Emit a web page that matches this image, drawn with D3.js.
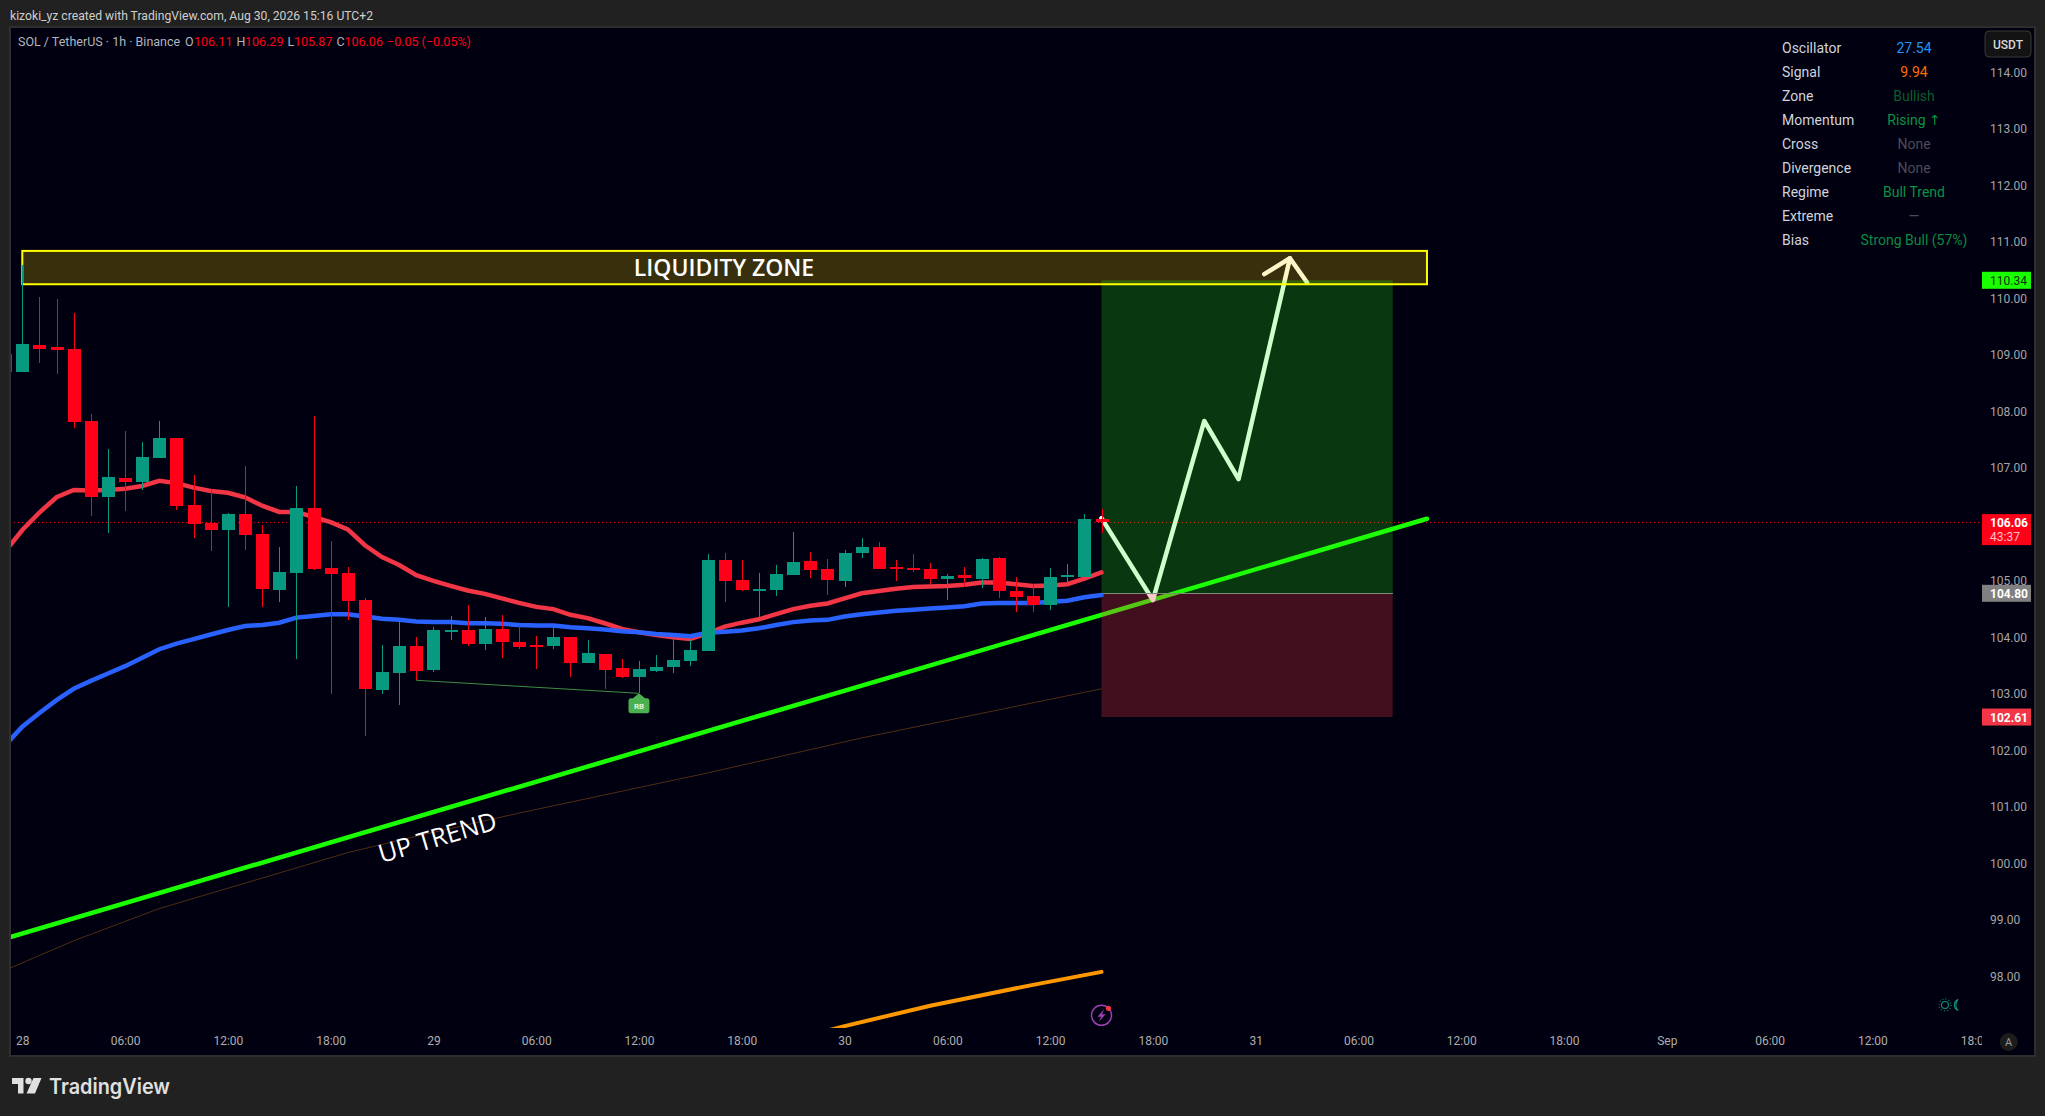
<!DOCTYPE html>
<html>
<head>
<meta charset="utf-8">
<title>SOL / TetherUS 1h</title>
<script src="https://cdn.jsdelivr.net/npm/d3@7"></script>
<style>
  html, body { margin: 0; padding: 0; background: #212121; overflow: hidden; }
  svg { display: block; }
  text { font-family: Roboto, "DejaVu Sans", sans-serif; }
</style>
</head>
<body>
<div id="chart"></div>
<script>
// hourly candles, first one is the partly hidden bar before 28th 00:00
const FIRST_BAR = -1;
const opens = [109.04,108.72,109.19,109.16,109.12,107.85,106.50,106.84,106.77,107.20,107.55,106.36,106.05,105.92,106.20,105.85,104.86,105.16,106.31,105.25,105.16,104.68,103.09,
  103.39,103.87,103.44,104.11,104.15,103.90,104.17,103.94,103.88,103.87,104.03,103.57,103.73,103.48,103.32,103.42,103.50,103.60,103.78,105.39,105.04,104.86,104.86,
  105.12,105.37,105.23,105.02,105.51,105.62,105.27,105.25,105.23,105.05,105.12,105.05,105.42,104.84,104.75,104.59,105.09,105.09,106.11];
const highs = [109.30,110.61,110.04,110.01,109.76,107.97,107.35,107.67,107.48,107.85,107.55,106.89,106.63,106.22,107.05,106.01,105.62,106.70,107.94,105.73,105.27,104.72,103.88,
  104.30,104.03,104.20,104.40,104.59,104.38,104.42,104.24,104.04,104.20,104.03,103.97,103.73,103.64,103.60,103.71,104.01,103.97,105.50,105.51,105.39,105.16,105.30,
  105.88,105.53,105.41,105.57,105.78,105.71,105.39,105.50,105.34,105.14,105.27,105.42,105.44,105.09,104.96,105.25,105.32,106.20,106.29];
const lows = [108.60,108.72,108.88,108.69,107.73,106.17,105.87,106.26,106.63,107.20,106.27,105.78,105.54,104.55,105.57,104.56,104.65,103.64,105.21,103.01,104.32,102.28,103.02,
  102.82,103.26,103.41,103.97,103.87,103.80,103.65,103.81,103.46,103.81,103.32,103.57,103.10,103.30,103.03,103.41,103.39,103.51,103.78,104.65,104.84,104.38,104.75,
  105.12,105.07,104.77,104.91,105.42,105.23,105.02,105.18,104.96,104.68,104.91,104.89,104.72,104.47,104.47,104.50,104.93,105.09,105.87];
const closes = [108.72,109.21,109.12,109.11,107.84,106.50,106.86,106.77,107.21,107.55,106.34,106.03,105.92,106.20,105.83,104.88,105.18,106.31,105.23,105.14,104.66,103.11,103.41,
  103.87,103.42,104.15,104.15,103.90,104.17,103.94,103.85,103.87,104.03,103.57,103.74,103.44,103.32,103.46,103.50,103.62,103.80,105.39,105.02,104.86,104.88,105.14,
  105.35,105.21,105.04,105.51,105.62,105.23,105.23,105.21,105.05,105.11,105.07,105.41,104.84,104.73,104.59,105.09,105.12,106.11,106.06];

const fastMa = [105.54,105.92,106.23,106.50,106.63,106.62,106.63,106.65,106.70,106.79,106.75,106.67,106.61,106.58,106.50,106.35,106.24,106.24,106.15,106.06,105.93,105.65,105.44,105.30,
  105.12,105.02,104.93,104.85,104.79,104.71,104.63,104.56,104.52,104.42,104.36,104.27,104.17,104.11,104.06,104.02,103.99,104.09,104.21,104.28,104.34,104.43,
  104.52,104.58,104.62,104.71,104.80,104.84,104.88,104.91,104.92,104.93,104.95,104.99,104.99,104.96,104.93,104.94,104.96,105.06,105.17];
const slowMa = [102.11,102.44,102.68,102.91,103.11,103.25,103.38,103.51,103.66,103.81,103.91,103.99,104.07,104.15,104.22,104.24,104.28,104.37,104.40,104.43,104.43,104.39,104.35,104.33,
  104.30,104.29,104.29,104.27,104.27,104.26,104.24,104.23,104.23,104.20,104.18,104.16,104.13,104.11,104.08,104.06,104.04,104.10,104.12,104.14,104.18,104.24,
  104.29,104.32,104.33,104.39,104.43,104.46,104.49,104.51,104.53,104.55,104.57,104.62,104.63,104.63,104.63,104.65,104.67,104.73,104.77];

// [bar, price] pairs
const brownLine = [[-1,98.13],[3,98.65],[8,99.22],[15,99.85],[19,100.21],[23,100.50],[29,100.91],[40,101.62],[49,102.24],[63,103.11]];
const orangeLine = [[47,97.06],[48,97.14],[53,97.50],[59,97.87],[63,98.10]];
const trendLine = [[-1,98.69],[82,106.12]];
const waveLine = [[63,106.13],[66,104.68],[69,107.85],[71,106.82],[74,110.73]];
const waveHead = [[72.5,110.45],[74,110.73],[75,110.30]];
const rbLine = [[23,103.26],[36,103.03]];

const priceTicks = d3.range(98, 115);
const timeBars = d3.range(0, 120, 6);
const timeLabels = ["28","06:00","12:00","18:00","29","06:00","12:00","18:00","30","06:00","12:00","18:00","31","06:00","12:00","18:00","Sep","06:00","12:00","18:00"];

const tableLabels = ["Oscillator","Signal","Zone","Momentum","Cross","Divergence","Regime","Extreme","Bias"];
const tableValues = ["27.54","9.94","Bullish","Rising ↑","None","None","Bull Trend","—","Strong Bull (57%)"];
const tableColors = ["#2196f3","#ff6d00","#0b5e2c","#0b9245","#4c4c58","#4c4c58","#0b9245","#4c4c58","#0b8a41"];

const legendPieces = ["O","106.11","H","106.29","L","105.87","C","106.06","−0.05 (−0.05%)"];
const legendX = [185,194,236.5,245,287.5,294,336.5,344.5,387];

const TARGET = 110.34, ENTRY = 104.80, STOP = 102.61, LAST = 106.06;
const ZONE_TOP = 110.86, ZONE_BOTTOM = 110.27;
const BOX_FROM = 63, BOX_TO = 80, ZONE_FROM = 0, ZONE_TO = 82;

const WIDTH = 2045, HEIGHT = 1116;
const BG = "#000010", UP = "#089981", DOWN = "#ff0018";

var x = d3.scaleLinear().domain([0, 63]).range([22.3, 1101.5]);
var y = d3.scaleLinear().domain([98, 114]).range([977.5, 73.5]);

var line = d3.line().x(d => x(d[0])).y(d => y(d[1]));

var svg = d3.select("#chart").append("svg")
    .attr("width", WIDTH)
    .attr("height", HEIGHT);

svg.append("rect").attr("width", WIDTH).attr("height", HEIGHT).attr("fill", "#212121");
svg.append("rect")
    .attr("x", 10).attr("y", 27)
    .attr("width", 2025).attr("height", 1029)
    .attr("fill", BG)
    .attr("stroke", "#2e2e2e").attr("stroke-width", 2);

var defs = svg.append("defs");
defs.append("clipPath").attr("id", "pane").append("rect")
    .attr("x", 11).attr("y", 28).attr("width", 1971).attr("height", 1000);
defs.append("clipPath").attr("id", "timeClip").append("rect")
    .attr("x", 11).attr("y", 1028).attr("width", 1971).attr("height", 27);

// header texts
svg.append("text").attr("x", 10).attr("y", 20)
    .attr("font-size", 13).attr("fill", "#cfcfcf")
    .attr("textLength", 363).attr("lengthAdjust", "spacingAndGlyphs")
    .text("kizoki_yz created with TradingView.com, Aug 30, 2026 15:16 UTC+2");
svg.append("text").attr("x", 18).attr("y", 46)
    .attr("font-size", 12.5).attr("fill", "#b2b5be")
    .text("SOL / TetherUS · 1h · Binance");
svg.selectAll("text.legend").data(legendPieces).join("text")
    .attr("class", "legend")
    .attr("x", (d, i) => legendX[i]).attr("y", 46)
    .attr("font-size", 12.5)
    .attr("fill", (d, i) => (i % 2 == 0 && i < 8) ? "#b2b5be" : DOWN)
    .text(d => d);

var pane = svg.append("g").attr("clip-path", "url(#pane)");

// last price line
pane.append("line")
    .attr("x1", 10).attr("x2", 1982)
    .attr("y1", y(LAST)).attr("y2", y(LAST))
    .attr("shape-rendering", "crispEdges")
    .attr("stroke", DOWN).attr("stroke-width", 1).attr("stroke-dasharray", "1 3");

// lines that the boxes tint
pane.append("path").attr("d", line(brownLine))
    .attr("fill", "none").attr("stroke", "#4f2d12").attr("stroke-width", 1);
pane.append("path").attr("d", line(orangeLine))
    .attr("fill", "none").attr("stroke", "#ff9800").attr("stroke-width", 4).attr("stroke-linecap", "round");
pane.append("path").attr("d", line(trendLine))
    .attr("fill", "none").attr("stroke", "#1aff00").attr("stroke-width", 4.5).attr("stroke-linecap", "round");
[waveLine, waveHead].forEach(pts => {
    pane.append("path").attr("d", line(pts))
        .attr("fill", "none").attr("stroke", "#ffffff").attr("stroke-width", 4.5)
        .attr("stroke-linecap", "round").attr("stroke-linejoin", "round");
});

// zone and long position boxes
pane.append("rect")
    .attr("x", x(ZONE_FROM)).attr("width", x(ZONE_TO) - x(ZONE_FROM))
    .attr("y", y(ZONE_TOP)).attr("height", y(ZONE_BOTTOM) - y(ZONE_TOP))
    .attr("fill", "rgba(255,215,0,0.22)");
pane.append("rect")
    .attr("x", x(BOX_FROM)).attr("width", x(BOX_TO) - x(BOX_FROM))
    .attr("y", y(TARGET)).attr("height", y(ENTRY) - y(TARGET))
    .attr("fill", "rgba(40,255,20,0.22)");
pane.append("rect")
    .attr("x", x(BOX_FROM)).attr("width", x(BOX_TO) - x(BOX_FROM))
    .attr("y", y(ENTRY)).attr("height", y(STOP) - y(ENTRY))
    .attr("fill", "rgba(242,54,69,0.27)");
pane.append("line")
    .attr("x1", x(BOX_FROM)).attr("x2", x(BOX_TO))
    .attr("y1", y(ENTRY)).attr("y2", y(ENTRY))
    .attr("shape-rendering", "crispEdges")
    .attr("stroke", "#7d8a7d").attr("stroke-width", 1);
pane.append("rect")
    .attr("x", x(ZONE_FROM)).attr("width", x(ZONE_TO) - x(ZONE_FROM))
    .attr("y", y(ZONE_TOP)).attr("height", y(ZONE_BOTTOM) - y(ZONE_TOP))
    .attr("fill", "none").attr("stroke", "#ffff00").attr("stroke-width", 2);

// moving averages
var maLine = d3.line().x((d, i) => x(i + FIRST_BAR)).y(d => y(d));
pane.append("path").attr("d", maLine(fastMa))
    .attr("fill", "none").attr("stroke", "#f23645").attr("stroke-width", 4.5).attr("stroke-linecap", "round");
pane.append("path").attr("d", maLine(slowMa))
    .attr("fill", "none").attr("stroke", "#2962ff").attr("stroke-width", 4.5).attr("stroke-linecap", "round");

// candles
var candles = pane.selectAll("g.candle").data(opens).join("g")
    .attr("class", "candle")
    .attr("shape-rendering", "crispEdges")
    .attr("fill", (d, i) => closes[i] >= d ? UP : DOWN);
candles.append("rect")
    .attr("x", (d, i) => Math.round(x(i + FIRST_BAR)))
    .attr("width", 1)
    .attr("y", (d, i) => y(highs[i]))
    .attr("height", (d, i) => y(lows[i]) - y(highs[i]));
candles.append("rect")
    .attr("x", (d, i) => Math.round(x(i + FIRST_BAR)) - 6)
    .attr("width", 13)
    .attr("y", (d, i) => y(Math.max(d, closes[i])))
    .attr("height", (d, i) => Math.max(2, Math.abs(y(d) - y(closes[i]))));

// RB marker
pane.append("path").attr("d", line(rbLine))
    .attr("fill", "none").attr("stroke", "#4caf50").attr("stroke-width", 1).attr("opacity", 0.8);
var rb = pane.append("g")
    .attr("transform", "translate(" + x(rbLine[1][0]) + "," + y(rbLine[1][1]) + ")");
rb.append("path").attr("d", "M0,0 L6,5 L8,5 Q10.5,5 10.5,8 L10.5,17 Q10.5,20 8,20 L-8,20 Q-10.5,20 -10.5,17 L-10.5,8 Q-10.5,5 -8,5 L-6,5 Z")
    .attr("fill", "#4caf50");
rb.append("text").attr("y", 15.5).attr("text-anchor", "middle")
    .attr("font-size", 8).attr("font-weight", 700).attr("fill", "#dff5e0").text("RB");

// drawn labels
svg.append("text").attr("x", 724).attr("y", 276)
    .attr("text-anchor", "middle")
    .style("font-family", "'Open Sans'")
    .attr("font-size", 23).attr("font-weight", 600).attr("fill", "#ffffff")
    .text("LIQUIDITY ZONE");
svg.append("text")
    .attr("transform", "translate(440,846) rotate(-16.5)")
    .attr("text-anchor", "middle")
    .style("font-family", "'Open Sans'")
    .attr("font-size", 25.5).attr("fill", "#ffffff")
    .text("UP TREND");

// lightning icon near the last bar
var bolt = svg.append("g").attr("transform", "translate(" + x(63) + ",1015.3)");
bolt.append("circle").attr("r", 10).attr("fill", "none").attr("stroke", "#9c3fb0").attr("stroke-width", 1.5);
bolt.append("path").attr("d", "M2.5,-6 L-4,1.5 L-0.5,1.5 L-2.5,6.5 L4,-1 L0.5,-1 Z").attr("fill", "#9c3fb0");
bolt.append("circle").attr("cx", 7).attr("cy", -7).attr("r", 2.6).attr("fill", "#f23645");

// sun and moon session icon
var session = svg.append("g").attr("transform", "translate(1945,1005)")
    .attr("fill", "none").attr("stroke", "#0e8f76").attr("stroke-width", 1.1);
session.append("circle").attr("r", 3.5);
session.append("circle").attr("r", 6).attr("stroke-dasharray", "1 2.1");
session.append("path").attr("d", "M13,-5.5 A6,6 0 0,0 13,5.5 A8,8 0 0,1 13,-5.5");

// axes
var priceAxis = d3.axisRight(y).tickValues(priceTicks).tickFormat(d3.format(".2f")).tickSize(0).tickPadding(0);
var yAxisG = svg.append("g").attr("transform", "translate(1990,-1)").call(priceAxis);
yAxisG.select(".domain").remove();
yAxisG.selectAll("text").attr("font-size", 12).style("font-family", "Roboto").attr("fill", "#a6a6a6");

var timeAxis = d3.axisBottom(x).tickValues(timeBars).tickFormat((d, i) => timeLabels[i]).tickSize(0).tickPadding(0);
var xClip = svg.append("g").attr("clip-path", "url(#timeClip)");
var xAxisG = xClip.append("g").attr("transform", "translate(0,1036)").call(timeAxis);
xAxisG.select(".domain").remove();
xAxisG.selectAll("text").attr("font-size", 12).style("font-family", "Roboto").attr("fill", "#aeaeae");

// auto button and unit button
svg.append("circle").attr("cx", 2008.7).attr("cy", 1042).attr("r", 9).attr("fill", "#1c1c1c");
svg.append("text").attr("x", 2008.7).attr("y", 1046).attr("text-anchor", "middle")
    .attr("font-size", 11).attr("fill", "#999").text("A");
svg.append("rect").attr("x", 1985).attr("y", 31).attr("width", 46).attr("height", 26).attr("rx", 4)
    .attr("fill", "#131313").attr("stroke", "#383838");
svg.append("text").attr("x", 2008).attr("y", 48.5).attr("text-anchor", "middle")
    .attr("font-size", 12).attr("font-weight", 500).attr("fill", "#d8d8d8").text("USDT");

// price tags on the axis
function tag(price, fill, textFill, weight, top, bottom) {
    svg.append("rect")
        .attr("x", 1982).attr("width", 49)
        .attr("y", y(price) - top).attr("height", top + bottom)
        .attr("fill", fill);
    svg.append("text")
        .attr("x", 1990).attr("y", y(price) + 4.5)
        .attr("font-size", 12).attr("font-weight", weight).attr("fill", textFill)
        .text(price.toFixed(2));
}
tag(TARGET, "#1aff00", "#10300a", 400, 8.5, 8.5);
tag(LAST, DOWN, "#ffffff", 700, 8, 23);
tag(ENTRY, "#808080", "#ffffff", 700, 8.5, 8.5);
tag(STOP, "#f23645", "#ffffff", 700, 8.5, 8.5);
svg.append("text").attr("x", 1990).attr("y", y(LAST) + 19)
    .attr("font-size", 12).attr("fill", "#ffc0c8").text("43:37");

// indicator table
var table = svg.append("g").selectAll("g").data(tableLabels).join("g")
    .attr("transform", (d, i) => "translate(0," + (48.3 + i * 24) + ")");
table.append("text")
    .attr("x", 1782).attr("dy", "0.35em")
    .attr("font-size", 14).attr("fill", "#d1d4dc")
    .text(d => d);
table.append("text")
    .attr("x", 1914).attr("dy", "0.35em").attr("text-anchor", "middle")
    .attr("font-size", 14)
    .attr("fill", (d, i) => tableColors[i])
    .text((d, i) => tableValues[i]);

// watermark logo
var logo = svg.append("g").attr("fill", "#e0e0e0");
logo.append("path").attr("d", "M12,1078 H23.5 V1093.5 H18 V1084 H12 Z");
logo.append("circle").attr("cx", 28.5).attr("cy", 1081).attr("r", 3.2);
logo.append("path").attr("d", "M33.5,1078 H41.5 L35,1093.5 H26.5 Z");
logo.append("text").attr("x", 49).attr("y", 1093.5)
    .style("font-family", "Inter").attr("font-size", 21).attr("font-weight", 600)
    .attr("textLength", 121).attr("lengthAdjust", "spacingAndGlyphs")
    .text("TradingView");
</script>
</body>
</html>
